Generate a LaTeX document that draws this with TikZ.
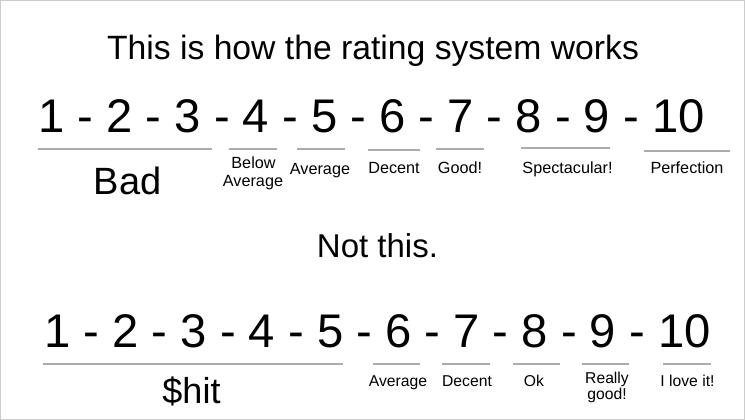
\documentclass[tikz,border=0pt]{standalone}
\usepackage{fontspec}
\setmainfont{Liberation Sans}
\begin{document}
\begin{tikzpicture}[x=1pt,y=-1pt,
  txt/.style={inner sep=0pt,anchor=base},
  big/.style={txt,font=\fontsize{47.2}{47}\selectfont},
  head/.style={txt,font=\fontsize{33.7}{34}\selectfont},
  word/.style={txt,font=\fontsize{36}{36}\selectfont},
  small/.style={txt,font=\fontsize{15.7}{16}\selectfont},
  smallb/.style={txt,font=\fontsize{16.2}{16}\selectfont},
  uline/.style={draw=black!33,line width=1.3pt}]
\draw[draw=black!20,line width=1pt,fill=white] (0.5,0.5) rectangle (744.5,419.5);
\useasboundingbox (0,0) rectangle (745,420);
% titles
\node[head] (t1) at (373,60) {This is how the rating system works};
\node[head,font=\fontsize{33}{33}\selectfont] (t2) at (377.5,257) {Not this.};
% row 1
\node[big] (r1) at (371.5,132) {1 - 2 - 3 - 4 - 5 - 6 - 7 - 8 - 9 - 10};
\draw[uline] (38,149) -- (212,149);
\draw[uline] (229,149) -- (277,149);
\draw[uline] (297,149) -- (345,149);
\draw[uline] (368,150) -- (420,150);
\draw[uline] (436,149) -- (484,149);
\draw[uline] (521,148) -- (610,148);
\draw[uline] (644,151) -- (730,151);
\node[word,font=\fontsize{38}{38}\selectfont] (bad) at (127.5,194) {Bad};
\node[smallb] (ba1) at (253.5,168) {Below};
\node[smallb] (ba2) at (253,186) {Average};
\node[smallb] (avg1) at (320,174) {Average};
\node[smallb] (dec1) at (394,173.5) {Decent};
\node[smallb] (good1) at (460,173.5) {Good!};
\node[smallb] (spec) at (567.5,173.5) {Spectacular!};
\node[smallb] (perf) at (687,173.5) {Perfection};
% row 2
\node[big] (r2) at (377.5,347) {1 - 2 - 3 - 4 - 5 - 6 - 7 - 8 - 9 - 10};
\draw[uline] (43,364) -- (343,364);
\draw[uline] (373,364) -- (420,364);
\draw[uline] (442,364) -- (490,364);
\draw[uline] (513,364) -- (560,364);
\draw[uline] (582,364) -- (629,364);
\draw[uline] (663,364) -- (711,364);
\node[word] (shit) at (191.5,403) {\$hit};
\node[small] (avg2) at (398,386) {Average};
\node[small] (dec2) at (467,386) {Decent};
\node[small] (ok) at (534,386) {Ok};
\node[small] (rg1) at (607,383) {Really};
\node[small] (rg2) at (607,399) {good!};
\node[small] (love) at (687.5,386) {I love it!};
\end{tikzpicture}
\end{document}
